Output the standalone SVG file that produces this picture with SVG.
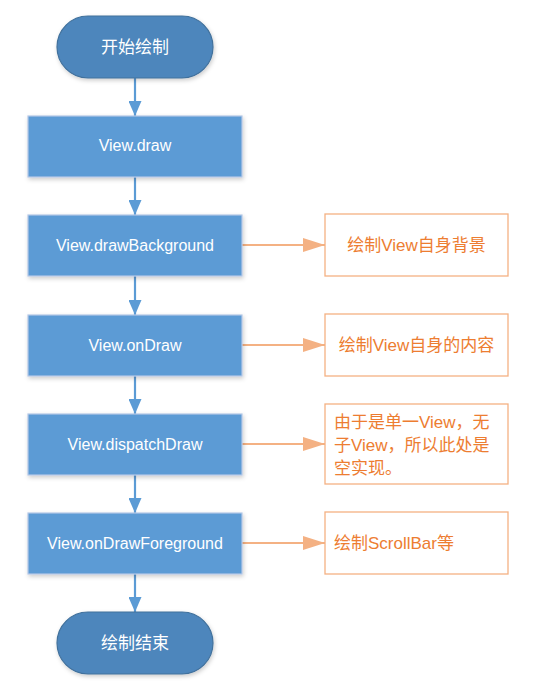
<svg xmlns="http://www.w3.org/2000/svg" width="546" height="692" viewBox="0 0 546 692">
<style>
.term{fill:#4E86BC;stroke:#41719C;stroke-width:1.2}
.proc{fill:#5B9BD5;stroke:#B4C7E7;stroke-width:1.2}
.note{fill:#FFFFFF;stroke:#F4B183;stroke-width:1.3}
.wt{fill:#FFFFFF;font-family:"Liberation Sans","Noto Sans CJK SC",sans-serif;font-size:16px;text-anchor:middle}
.wc{fill:#FFFFFF;font-family:"Liberation Sans","Noto Sans CJK SC",sans-serif;font-size:17px;text-anchor:middle}
.ot{fill:#ED7D31;font-family:"Liberation Sans","Noto Sans CJK SC",sans-serif;font-size:17px}
.bl{stroke:#5B9BD5;stroke-width:2.2;fill:none}
.ol{stroke:#F4B183;stroke-width:2.2;fill:none}
</style>
<defs>
<filter id="sh" x="-10%" y="-10%" width="130%" height="140%">
<feDropShadow dx="1" dy="2" stdDeviation="2" flood-color="#000" flood-opacity="0.2"/>
</filter>
<marker id="ba" markerWidth="15" markerHeight="13" refX="15" refY="6.5" orient="auto" markerUnits="userSpaceOnUse">
<path d="M0,0 L15,6.5 L0,13 Z" fill="#5B9BD5"/>
</marker>
<marker id="oa" markerWidth="22" markerHeight="14" refX="22" refY="7" orient="auto" markerUnits="userSpaceOnUse">
<path d="M0,0 L22,7 L0,14 Z" fill="#F4B183"/>
</marker>
</defs>
<g id="connectors">
<line class="bl" x1="135" y1="78" x2="135" y2="116" marker-end="url(#ba)"/>
<line class="bl" x1="135" y1="177" x2="135" y2="215" marker-end="url(#ba)"/>
<line class="bl" x1="135" y1="276" x2="135" y2="315" marker-end="url(#ba)"/>
<line class="bl" x1="135" y1="376" x2="135" y2="414" marker-end="url(#ba)"/>
<line class="bl" x1="135" y1="475" x2="135" y2="513" marker-end="url(#ba)"/>
<line class="bl" x1="135" y1="574" x2="135" y2="612" marker-end="url(#ba)"/>
<line class="ol" x1="242" y1="245" x2="325" y2="245" marker-end="url(#oa)"/>
<line class="ol" x1="242" y1="345" x2="325" y2="345" marker-end="url(#oa)"/>
<line class="ol" x1="242" y1="444" x2="325" y2="444" marker-end="url(#oa)"/>
<line class="ol" x1="242" y1="543" x2="325" y2="543" marker-end="url(#oa)"/>
</g>
<g id="start">
<rect class="term" x="57" y="16" width="156" height="62" rx="31" filter="url(#sh)"/>
<text class="wc" x="135" y="53">开始绘制</text>
</g>
<g id="draw">
<rect class="proc" x="28" y="116" width="214" height="61" filter="url(#sh)"/>
<text class="wt" x="135" y="151">View.draw</text>
</g>
<g id="drawBackground">
<rect class="proc" x="28" y="215" width="214" height="61" filter="url(#sh)"/>
<text class="wt" x="135" y="251">View.drawBackground</text>
</g>
<g id="onDraw">
<rect class="proc" x="28" y="315" width="214" height="61" filter="url(#sh)"/>
<text class="wt" x="135" y="351">View.onDraw</text>
</g>
<g id="dispatchDraw">
<rect class="proc" x="28" y="414" width="214" height="61" filter="url(#sh)"/>
<text class="wt" x="135" y="450">View.dispatchDraw</text>
</g>
<g id="onDrawForeground">
<rect class="proc" x="28" y="513" width="214" height="61" filter="url(#sh)"/>
<text class="wt" x="135" y="549">View.onDrawForeground</text>
</g>
<g id="end">
<rect class="term" x="57" y="612" width="156" height="62" rx="31" filter="url(#sh)"/>
<text class="wc" x="135" y="649">绘制结束</text>
</g>
<g id="note1">
<rect class="note" x="325" y="214" width="183" height="62"/>
<text class="ot" x="416.5" y="251" text-anchor="middle">绘制View自身背景</text>
</g>
<g id="note2">
<rect class="note" x="325" y="314" width="183" height="62"/>
<text class="ot" x="416.5" y="351" text-anchor="middle">绘制View自身的内容</text>
</g>
<g id="note3">
<rect class="note" x="325" y="404" width="183" height="80"/>
<text class="ot" x="334" y="428">由于是单一View，无</text>
<text class="ot" x="334" y="451">子View，所以此处是</text>
<text class="ot" x="334" y="474">空实现。</text>
</g>
<g id="note4">
<rect class="note" x="325" y="512" width="183" height="62"/>
<text class="ot" x="334" y="549">绘制ScrollBar等</text>
</g>
</svg>
